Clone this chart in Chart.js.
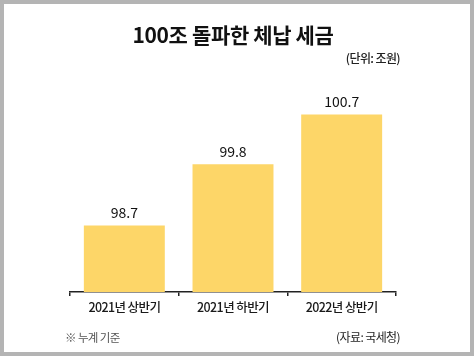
<!DOCTYPE html>
<html><head><meta charset="utf-8">
<script src="https://cdn.jsdelivr.net/npm/chart.js@4"></script>
<style>html,body{margin:0;padding:0;background:#fff;}#wrap{width:474px;height:356px;position:relative;}</style>
</head><body><div id="wrap"><canvas id="c" width="474" height="356"></canvas></div>
<script>
const categories = ['2021년 상반기', '2021년 하반기', '2022년 상반기'];
const values = [98.7, 99.8, 100.7];
const valueLabels = ['98.7', '99.8', '100.7'];
const title = '100조 돌파한 체납 세금';
const unitText = '(단위: 조원)';
const noteText = '※ 누계 기준';
const sourceText = '(자료: 국세청)';

const FONT = "'Noto Sans CJK KR', 'Noto Sans', sans-serif";

const deco = {
  id: 'deco',
  beforeDraw(chart) {
    const ctx = chart.ctx;
    ctx.save();
    ctx.fillStyle = '#fff';
    ctx.fillRect(0, 0, chart.width, chart.height);
    ctx.restore();
    ctx.letterSpacing = '-0.6px';
  },
  afterDraw(chart) {
    const ctx = chart.ctx;
    ctx.letterSpacing = '0px';
    ctx.save();
    // border
    ctx.strokeStyle = '#b4b4b4';
    ctx.lineWidth = 4;
    ctx.strokeRect(2, 2, chart.width - 4, chart.height - 4);
    // title
    ctx.fillStyle = '#111';
    ctx.textAlign = 'center';
    ctx.textBaseline = 'alphabetic';
    ctx.font = "bold 21px " + FONT;
    const tw = ctx.measureText(title).width;
    if (tw > 201) { ctx.letterSpacing = ((201 - tw) / title.length).toFixed(2) + 'px'; }
    ctx.fillText(title, 233, 43);
    ctx.letterSpacing = '-0.6px';
    // unit
    ctx.font = "500 12px " + FONT;
    ctx.fillStyle = '#222';
    ctx.textAlign = 'right';
    ctx.fillText(unitText, 400, 63);
    // footnotes
    ctx.font = "11.5px " + FONT;
    ctx.fillStyle = '#555';
    ctx.textAlign = 'left';
    ctx.fillText(noteText, 65, 342);
    ctx.font = "12px " + FONT;
    ctx.fillStyle = '#222';
    ctx.textAlign = 'right';
    ctx.fillText(sourceText, 400, 342);
    ctx.letterSpacing = '0px';
    // value labels
    const meta = chart.getDatasetMeta(0);
    ctx.font = "14px " + FONT;
    ctx.fillStyle = '#111';
    ctx.textAlign = 'center';
    meta.data.forEach((bar, i) => {
      ctx.fillText(valueLabels[i], bar.x, bar.y - 7);
    });
    ctx.restore();
  }
};

new Chart(document.getElementById('c'), {
  type: 'bar',
  data: {
    labels: categories,
    datasets: [{
      data: values,
      backgroundColor: '#fdd668',
      borderWidth: 0,
      categoryPercentage: 1,
      barPercentage: 0.745
    }]
  },
  options: {
    responsive: false,
    animation: false,
    devicePixelRatio: 1,
    layout: { padding: { left: 70, right: 78, top: 70, bottom: 0 } },
    plugins: { legend: { display: false }, tooltip: { enabled: false }, title: { display: false } },
    scales: {
      x: {
        afterFit(scale) { scale.height = 64; },
        border: { display: true, color: '#222', width: 1.5 },
        grid: { display: true, drawOnChartArea: false, drawTicks: true, tickLength: 4, color: '#222', lineWidth: 1.5, offset: true },
        ticks: { color: '#1a1a1a', font: { family: FONT, size: 12.5, weight: '500' }, padding: 4 }
      },
      y: {
        display: false,
        min: 97.5,
        max: 101.5
      }
    }
  },
  plugins: [deco]
});
</script></body></html>
